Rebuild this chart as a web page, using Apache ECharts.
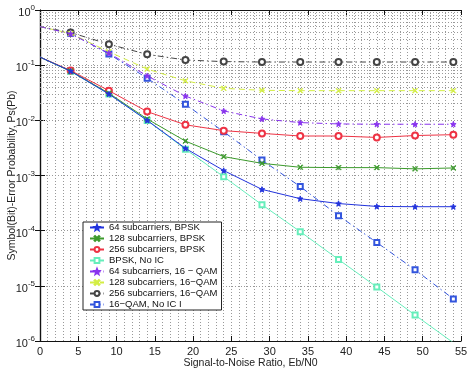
<!DOCTYPE html>
<html><head><meta charset="utf-8">
<script src="https://cdn.jsdelivr.net/npm/echarts@6/dist/echarts.min.js"></script>
<style>html,body{margin:0;padding:0;background:#fff}#c{width:474px;height:372px}</style>
</head><body><div id="c"></div>
<script>
var xs = [0, 4, 9, 14, 19, 24, 29, 34, 39, 44, 49, 54];
var bpsk64 = [0.14, 0.078, 0.030, 0.0100, 0.0031, 0.00123, 0.00056, 0.00038, 0.00031, 0.000275, 0.000272, 0.000272];
var bpsk128 = [0.14, 0.078, 0.031, 0.0106, 0.0042, 0.0022, 0.00166, 0.00141, 0.00139, 0.00139, 0.00132, 0.00137];
var bpsk256 = [0.14, 0.080, 0.0345, 0.0144, 0.0083, 0.0065, 0.0058, 0.0052, 0.0052, 0.0049, 0.0053, 0.0055];
var bpskNoIC = [0.14, 0.077, 0.030, 0.0099, 0.0030, 0.00095, 0.000295, 0.000096, 0.000030, 0.0000095, 0.00000295, 0.00000093];
var qam64 = [0.5, 0.37, 0.165, 0.064, 0.0276, 0.0148, 0.0106, 0.0091, 0.0086, 0.0085, 0.0085, 0.0085];
var qam128 = [0.5, 0.375, 0.175, 0.085, 0.052, 0.038, 0.035, 0.0345, 0.0345, 0.0345, 0.0345, 0.0345];
var qam256 = [0.5, 0.39, 0.24, 0.157, 0.124, 0.116, 0.114, 0.114, 0.114, 0.114, 0.114, 0.114];
var qamNoICI = [0.5, 0.38, 0.16, 0.058, 0.0195, 0.0062, 0.0019, 0.00063, 0.000187, 0.000061, 0.0000195, 0.0000058];
var names = ["64 subcarriers, BPSK", "128 subcarriers, BPSK", "256 subcarriers, BPSK", "BPSK, No IC",
  "64 subcarriers, 16 \u2212 QAM", "128 subcarriers, 16\u2212QAM", "256 subcarriers, 16\u2212QAM", "16\u2212QAM, No IC I"];
var xTicks = [0, 5, 10, 15, 20, 25, 30, 35, 40, 45, 50, 55];

var STAR = 'path://M0,-10 L2.6,-3.6 L9.5,-3.1 L4.2,1.4 L5.9,8.1 L0,4.4 L-5.9,8.1 L-4.2,1.4 L-9.5,-3.1 L-2.6,-3.6 Z';
var XMARK = 'path://M0,1 L1,0 L5,4 L9,0 L10,1 L6,5 L10,9 L9,10 L5,6 L1,10 L0,9 L4,5 Z';
var DASHDOT = [6, 3, 1.5, 3];

function mk(vals) {
  return vals.map(function (v, i) {
    var d = { value: [xs[i], v] };
    if (i === 0) d.symbol = 'none';
    return d;
  });
}
var styles = [
  { c: '#2233dd', sym: STAR, size: 5.5, type: 'solid' },
  { c: '#3c9a2c', sym: XMARK, size: 5, type: 'solid' },
  { c: '#ee3344', sym: 'emptyCircle', size: 6, type: 'solid' },
  { c: '#66eebb', sym: 'emptyRect', size: 5, type: 'solid' },
  { c: '#8833ee', sym: STAR, size: 5.5, type: DASHDOT },
  { c: '#d4ee44', sym: XMARK, size: 5, type: [6, 4] },
  { c: '#444444', sym: 'emptyCircle', size: 6, type: DASHDOT },
  { c: '#3355dd', sym: 'emptyRect', size: 5, type: DASHDOT }
];
var allVals = [bpsk64, bpsk128, bpsk256, bpskNoIC, qam64, qam128, qam256, qamNoICI];

var minorY = [];
for (var n = -6; n < 0; n++) for (var k = 2; k <= 9; k++) minorY.push({ yAxis: k * Math.pow(10, n) });

var series = [{
  name: 'grid', type: 'line', data: [[0, 0.001], [55, 0.001]], symbol: 'none', silent: true,
  lineStyle: { opacity: 0 }, z: 1,
  markLine: { silent: true, symbol: 'none', label: { show: false }, animation: false,
    lineStyle: { color: '#999', type: [1, 2], width: 1 }, data: minorY }
}];
allVals.forEach(function (vals, i) {
  var s = styles[i];
  series.push({
    name: names[i], type: 'line', data: mk(vals), symbol: s.sym, symbolSize: s.size,
    showAllSymbol: true, animation: false, z: 5 + (8 - i),
    lineStyle: { color: s.c, width: 1, type: s.type },
    itemStyle: { color: s.c, borderColor: s.c, borderWidth: 0.9 }
  });
});

var chart = echarts.init(document.getElementById('c'), null, { renderer: 'canvas' });
chart.setOption({
  backgroundColor: '#fff',
  animation: false,
  grid: { left: 40, right: 13, top: 10, bottom: 31, show: false, containLabel: false, outerBoundsMode: 'none' },
  legend: {
    data: names, orient: 'vertical', left: 83, top: 222, itemGap: 0,
    itemWidth: 14, itemHeight: 6, padding: [0, 4, 0, 6],
    backgroundColor: '#fff', borderColor: '#222', borderWidth: 1, borderRadius: 0,
    textStyle: { fontFamily: 'Liberation Sans, Arial', fontSize: 9.5, lineHeight: 11, color: '#111' }
  },
  xAxis: [{
    type: 'value', min: 0, max: 55, interval: 5, position: 'bottom',
    name: 'Signal-to-Noise Ratio, Eb/N0', nameLocation: 'middle', nameGap: 17, nameMoveOverlap: false,
    nameTextStyle: { fontFamily: 'Liberation Sans, Arial', fontSize: 10.5, color: '#222' },
    axisLine: { lineStyle: { color: '#111', width: 1.2 } },
    axisTick: { inside: true, length: 5, lineStyle: { color: '#111' } },
    axisLabel: { fontFamily: 'Liberation Sans, Arial', fontSize: 11, color: '#222', margin: 5,
      formatter: function (v) { return xTicks.indexOf(v) >= 0 ? String(v) : ''; } },
    splitLine: { show: true, lineStyle: { color: '#999', type: [1, 2] } },
    minorTick: { show: false, splitNumber: 5 },
    minorSplitLine: { show: true, lineStyle: { color: '#999', type: [1, 2] } }
  }, {
    type: 'value', min: 0, max: 55, interval: 5, position: 'top',
    axisLine: { lineStyle: { color: '#111', width: 1.2 } },
    axisTick: { inside: true, length: 5, lineStyle: { color: '#111' } },
    axisLabel: { show: false }, splitLine: { show: false }
  }],
  yAxis: [{
    type: 'log', logBase: 10, min: 1e-6, max: 1, position: 'left',
    name: 'Symbol(Bit)-Error Probability, Ps(Pb)', nameLocation: 'middle', nameGap: 22, nameMoveOverlap: false,
    nameTextStyle: { fontFamily: 'Liberation Sans, Arial', fontSize: 10.5, color: '#222' },
    axisLine: { show: true, lineStyle: { color: '#111', width: 1.2 } },
    axisTick: { show: true, inside: true, length: 5, lineStyle: { color: '#111' } },
    axisLabel: { margin: 5, color: '#222',
      formatter: function (v) { return '{b|10}{s|' + Math.round(Math.log10(v)) + '}'; },
      rich: { b: { fontFamily: 'Liberation Sans, Arial', fontSize: 11, color: '#222', padding: [6, 0, 0, 0] },
              s: { fontFamily: 'Liberation Sans, Arial', fontSize: 8, color: '#222', padding: [0, 0, 4, 0] } } },
    splitLine: { show: true, lineStyle: { color: '#999', type: [1, 2] } }
  }, {
    type: 'log', logBase: 10, min: 1e-6, max: 1, position: 'right',
    axisLine: { show: true, lineStyle: { color: '#111', width: 1.2 } },
    axisTick: { show: true, inside: true, length: 5, lineStyle: { color: '#111' } },
    axisLabel: { show: false }, splitLine: { show: false }
  }],
  series: series
});
</script>
</body></html>
